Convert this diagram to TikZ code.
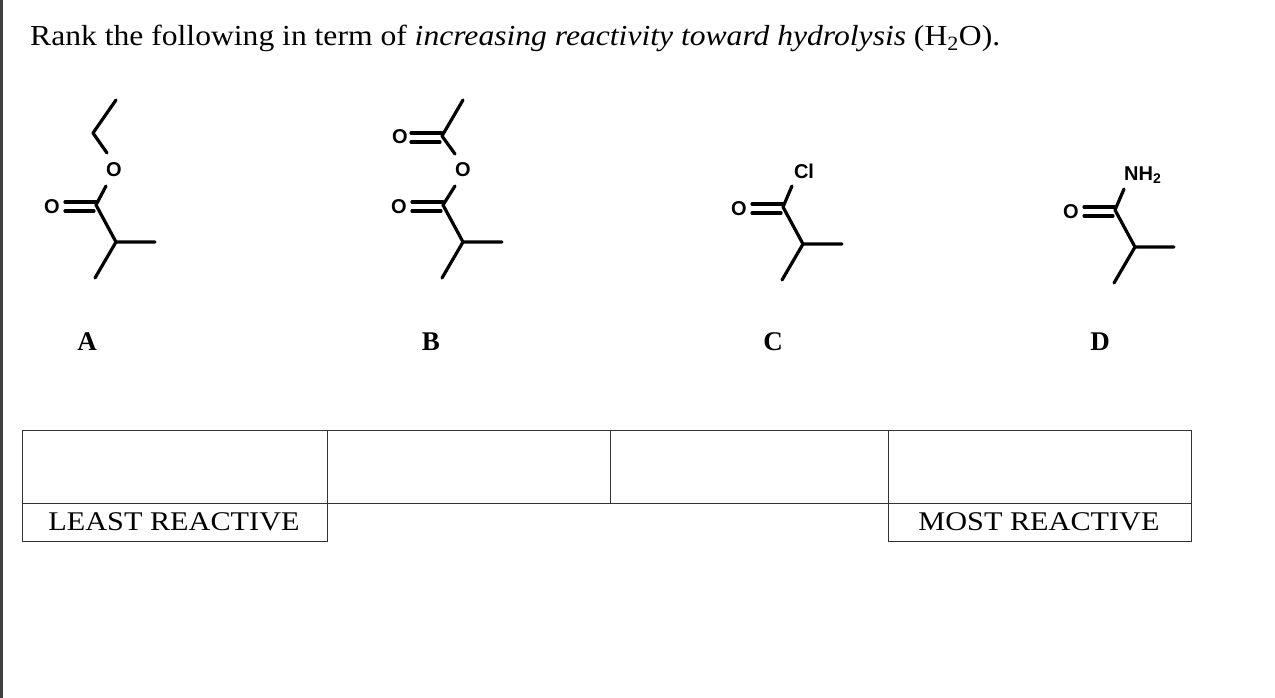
\documentclass[tikz,border=0pt]{standalone}
\usepackage{fontspec}
\setmainfont{Liberation Serif}
\newfontfamily\arial{Liberation Sans}
\begin{document}
\begin{tikzpicture}[x=1pt,y=-1pt,
  bond/.style={line width=3.2pt,line cap=round,line join=round},
  atom/.style={font=\arial\bfseries\fontsize{20}{20}\selectfont,inner sep=0pt},
  lbl/.style={font=\fontsize{27}{27}\selectfont\bfseries},
  cell/.style={draw=black!80,line width=1pt},
  celltxt/.style={font=\fontsize{27}{27}\selectfont,xscale=1.12}]
\useasboundingbox (0,0) rectangle (1275,698);
\fill[black!75] (0,0) rectangle (3,698);
\node[anchor=base west,inner sep=0pt,font=\fontsize{29}{29}\selectfont,xscale=1.09] (title) at (30,46)
 {Rank the following in term of \textit{increasing reactivity toward hydrolysis} (H\textsubscript{2}O).};
\foreach \sx/\sy/\nm in {96/205/A,443/205/B,783/207/C,1115/210/D}{
 \begin{scope}[shift={(\sx,\sy)}]
  \coordinate (c\nm) at (0,0);
  \node[atom] (o\nm) at (-44,2) {O};
  \coordinate (ch\nm) at (20,37);
  \coordinate (me1\nm) at (59,37);
  \coordinate (me2\nm) at (-1,73);
  \draw[bond] (-31,-3) -- (0,-3);
  \draw[bond] (-31,6) -- (-2,6);
  \draw[bond] (c\nm) -- (ch\nm) -- (me1\nm);
  \draw[bond] (ch\nm) -- (me2\nm);
 \end{scope}}
\node[atom] (oA2) at (114,170) {O};
\draw[bond] (106,186) -- (cA);
\draw[bond] (107,153) -- (93,133) -- (116,100);
\node[atom] (oB2) at (463,170) {O};
\node[atom] (oB3) at (400,137) {O};
\draw[bond] (455,186) -- (cB);
\draw[bond] (455,154) -- (442,136) -- (463,100);
\draw[bond] (411,133) -- (442,133);
\draw[bond] (411,142) -- (440,142);
\node[atom] (clC) at (804,171) {Cl};
\draw[bond] (cC) -- (792,186);
\node[atom,anchor=west] (nD) at (1124,175) {NH\textsubscript{2}};
\draw[bond] (cD) -- (1124,189);
\node[lbl] (lA) at (87,342) {A};
\node[lbl] (lB) at (431,342) {B};
\node[lbl] (lC) at (773,342) {C};
\node[lbl] (lD) at (1100,342) {D};
\draw[cell] (22,430) rectangle (327,503);
\draw[cell] (327,430) rectangle (610,503);
\draw[cell] (610,430) rectangle (888,503);
\draw[cell] (888,430) rectangle (1191,503);
\draw[cell] (22,503) rectangle (327,541);
\draw[cell] (888,503) rectangle (1191,541);
\node[celltxt] (least) at (174,522) {LEAST REACTIVE};
\node[celltxt] (most) at (1039,522) {MOST REACTIVE};
\end{tikzpicture}
\end{document}
